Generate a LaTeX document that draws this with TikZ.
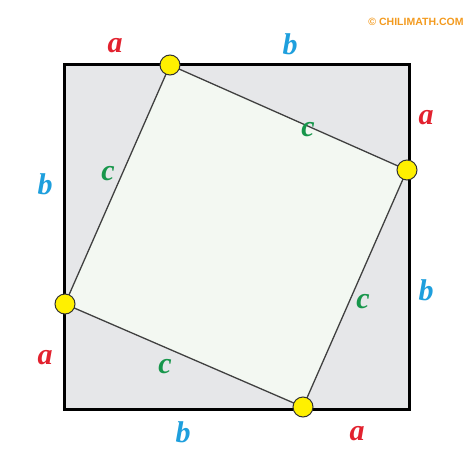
\documentclass[tikz,border=0pt]{standalone}
\usepackage{fontspec}
\setmainfont{Liberation Serif}
\newfontfamily\wmfont{Liberation Sans}
\definecolor{outerfill}{HTML}{E6E7E9}
\definecolor{innerfill}{HTML}{F3F8F2}
\definecolor{ared}{HTML}{E2222F}
\definecolor{bblue}{HTML}{1E9FDD}
\definecolor{cgreen}{HTML}{17964B}
\definecolor{dotyellow}{HTML}{FFF000}
\definecolor{wmorange}{HTML}{F39A1E}
\tikzset{
  lab/.style={font=\fontsize{30}{30}\selectfont\bfseries\itshape, inner sep=0pt},
  alab/.style={lab, text=ared},
  blab/.style={lab, text=bblue},
  clab/.style={lab, text=cgreen},
  vdot/.style={circle, fill=dotyellow, draw=black!80, line width=1pt, minimum size=20pt, inner sep=0pt},
}
\begin{document}
\begin{tikzpicture}[x=1pt,y=-1pt]
\useasboundingbox (0,0) rectangle (474,474);
\coordinate (TL) at (64,64);
\coordinate (BR) at (409,409);
\fill[outerfill] (TL) rectangle (BR);
\coordinate (P1) at (170,65);
\coordinate (P2) at (407,170);
\coordinate (P3) at (303,407);
\coordinate (P4) at (65,304);
\fill[innerfill] (P1) -- (P2) -- (P3) -- (P4) -- cycle;
\draw[black!75, line width=1.3pt] (P1) -- (P2) -- (P3) -- (P4) -- cycle;
\draw[black, line width=3pt] (TL) rectangle (BR);
\node[vdot] (d1) at (P1) {};
\node[vdot] (d2) at (P2) {};
\node[vdot] (d3) at (P3) {};
\node[vdot] (d4) at (P4) {};
% labels
\node[alab] (at) at (115,46) {a};
\node[blab] (bt) at (290,44) {b};
\node[alab] (ar) at (426,118) {a};
\node[blab] (br) at (426,290) {b};
\node[alab] (ab) at (357,434) {a};
\node[blab] (bb) at (183,432) {b};
\node[blab] (bl) at (45,184) {b};
\node[alab] (al) at (45,358) {a};
\node[clab] (c1) at (308,130) {c};
\node[clab] (c2) at (108,174) {c};
\node[clab] (c3) at (165,367) {c};
\node[clab] (c4) at (363,302) {c};
\node[font=\wmfont\bfseries\fontsize{10.5}{10.5}\selectfont, text=wmorange, inner sep=0pt] (wm) at (416,22) {© CHILIMATH.COM};
\end{tikzpicture}
\end{document}
